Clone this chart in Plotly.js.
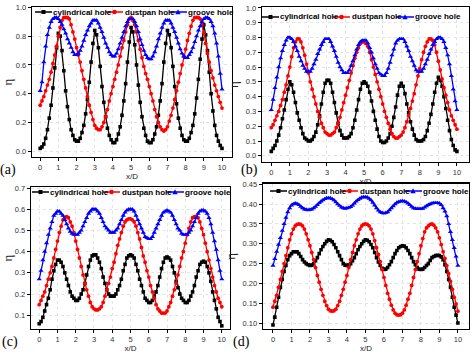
<!DOCTYPE html>
<html><head><meta charset="utf-8">
<script src="https://cdn.plot.ly/plotly-3.0.1.min.js"></script>
<style>html,body{margin:0;padding:0;background:#fff}#chart{width:474px;height:354px}</style>
</head><body><div id="chart"></div>
<script>
// x/D positions
const xD = [0,0.1,0.2,0.3,0.4,0.5,0.6,0.7,0.8,0.9,
  1,1.1,1.2,1.3,1.4,1.5,1.6,1.7,1.8,1.9,
  2,2.1,2.2,2.3,2.4,2.5,2.6,2.7,2.8,2.9,
  3,3.1,3.2,3.3,3.4,3.5,3.6,3.7,3.8,3.9,
  4,4.1,4.2,4.3,4.4,4.5,4.6,4.7,4.8,4.9,
  5,5.1,5.2,5.3,5.4,5.5,5.6,5.7,5.8,5.9,
  6,6.1,6.2,6.3,6.4,6.5,6.6,6.7,6.8,6.9,
  7,7.1,7.2,7.3,7.4,7.5,7.6,7.7,7.8,7.9,
  8,8.1,8.2,8.3,8.4,8.5,8.6,8.7,8.8,8.9,
  9,9.1,9.2,9.3,9.4,9.5,9.6,9.7,9.8,9.9,10];
const seriesNames = ['cylindrical hole','dustpan hole','groove hole'];
const panelTags = ['(a)','(b)','(c)','(d)'];

// (a)
const cylA = [0.02,0.03,0.05,0.09,0.15,0.23,0.32,0.44,0.58,0.72,
  0.82,0.80,0.70,0.56,0.42,0.31,0.22,0.15,0.11,0.08,
  0.07,0.07,0.09,0.13,0.18,0.26,0.36,0.48,0.62,0.75,
  0.84,0.81,0.72,0.59,0.45,0.34,0.24,0.16,0.11,0.08,
  0.06,0.06,0.08,0.12,0.17,0.25,0.35,0.47,0.62,0.76,
  0.86,0.83,0.74,0.60,0.46,0.34,0.24,0.16,0.11,0.07,
  0.06,0.06,0.08,0.12,0.17,0.25,0.35,0.47,0.62,0.75,
  0.84,0.81,0.72,0.59,0.45,0.33,0.23,0.16,0.11,0.08,
  0.07,0.07,0.09,0.13,0.18,0.26,0.37,0.50,0.64,0.78,
  0.88,0.81,0.70,0.55,0.40,0.28,0.18,0.11,0.07,0.04,0.02];
const dusA = [0.32,0.35,0.38,0.42,0.46,0.50,0.55,0.61,0.67,0.73,
  0.80,0.86,0.91,0.93,0.93,0.93,0.92,0.88,0.83,0.78,
  0.72,0.67,0.62,0.56,0.50,0.44,0.38,0.32,0.27,0.22,
  0.18,0.16,0.15,0.15,0.17,0.20,0.24,0.29,0.35,0.40,
  0.45,0.50,0.55,0.60,0.66,0.72,0.77,0.83,0.88,0.92,
  0.93,0.91,0.88,0.83,0.77,0.71,0.65,0.59,0.54,0.50,
  0.45,0.40,0.35,0.29,0.24,0.20,0.17,0.15,0.14,0.15,
  0.17,0.21,0.25,0.30,0.36,0.42,0.48,0.54,0.60,0.66,
  0.71,0.77,0.82,0.87,0.91,0.93,0.93,0.93,0.92,0.88,
  0.82,0.75,0.68,0.62,0.56,0.51,0.46,0.42,0.38,0.34,0.30];
const groA = [0.42,0.48,0.62,0.73,0.81,0.86,0.90,0.92,0.93,0.93,
  0.92,0.90,0.88,0.85,0.82,0.78,0.75,0.72,0.69,0.67,
  0.67,0.68,0.70,0.73,0.77,0.81,0.84,0.87,0.89,0.91,
  0.91,0.91,0.89,0.86,0.83,0.79,0.75,0.72,0.69,0.67,
  0.66,0.66,0.68,0.71,0.75,0.79,0.83,0.87,0.90,0.92,
  0.92,0.92,0.90,0.87,0.83,0.78,0.74,0.70,0.67,0.65,
  0.64,0.64,0.66,0.69,0.73,0.78,0.82,0.86,0.89,0.91,
  0.91,0.91,0.89,0.86,0.83,0.79,0.75,0.71,0.68,0.66,
  0.65,0.65,0.67,0.69,0.72,0.76,0.80,0.84,0.87,0.90,
  0.92,0.93,0.93,0.92,0.90,0.87,0.82,0.75,0.66,0.54,0.43];
// (b)
const cylB = [0.03,0.05,0.07,0.10,0.14,0.19,0.25,0.31,0.38,0.45,
  0.50,0.48,0.43,0.36,0.29,0.24,0.19,0.15,0.12,0.11,
  0.10,0.10,0.11,0.13,0.16,0.21,0.27,0.35,0.43,0.49,
  0.51,0.51,0.49,0.43,0.36,0.29,0.22,0.17,0.14,0.12,
  0.12,0.12,0.13,0.15,0.19,0.24,0.31,0.38,0.45,0.49,
  0.50,0.49,0.47,0.43,0.37,0.30,0.24,0.18,0.13,0.10,
  0.09,0.09,0.10,0.12,0.15,0.20,0.26,0.33,0.41,0.47,
  0.49,0.47,0.42,0.35,0.29,0.23,0.18,0.14,0.11,0.10,
  0.10,0.10,0.11,0.13,0.17,0.22,0.28,0.35,0.43,0.49,
  0.53,0.51,0.47,0.40,0.32,0.24,0.17,0.11,0.07,0.04,0.03];
const dusB = [0.19,0.21,0.24,0.27,0.30,0.34,0.38,0.43,0.48,0.54,
  0.60,0.67,0.73,0.77,0.79,0.79,0.77,0.73,0.68,0.62,
  0.56,0.50,0.45,0.40,0.35,0.30,0.26,0.22,0.19,0.16,
  0.15,0.14,0.14,0.15,0.16,0.19,0.22,0.26,0.31,0.36,
  0.41,0.46,0.51,0.56,0.61,0.66,0.70,0.73,0.76,0.77,
  0.77,0.76,0.74,0.70,0.65,0.60,0.55,0.50,0.45,0.40,
  0.35,0.30,0.26,0.22,0.18,0.15,0.13,0.12,0.12,0.13,
  0.14,0.16,0.19,0.23,0.27,0.32,0.37,0.42,0.48,0.54,
  0.59,0.65,0.70,0.74,0.77,0.79,0.79,0.78,0.75,0.70,
  0.64,0.58,0.52,0.46,0.41,0.36,0.31,0.27,0.24,0.21,0.18];
const groB = [0.31,0.38,0.46,0.53,0.60,0.66,0.71,0.75,0.78,0.80,
  0.80,0.79,0.77,0.74,0.71,0.67,0.64,0.61,0.59,0.57,
  0.57,0.57,0.59,0.62,0.65,0.69,0.72,0.75,0.77,0.79,
  0.79,0.79,0.77,0.74,0.71,0.67,0.63,0.60,0.58,0.56,
  0.56,0.56,0.58,0.61,0.64,0.68,0.72,0.75,0.77,0.78,
  0.78,0.78,0.76,0.73,0.70,0.66,0.62,0.59,0.56,0.55,
  0.54,0.54,0.56,0.59,0.63,0.68,0.72,0.76,0.78,0.79,
  0.79,0.79,0.77,0.74,0.71,0.67,0.64,0.61,0.58,0.57,
  0.57,0.57,0.59,0.62,0.65,0.69,0.72,0.75,0.77,0.79,
  0.80,0.80,0.79,0.77,0.73,0.68,0.62,0.54,0.45,0.37,0.31];
// (c)
const cylC = [0.06,0.07,0.09,0.12,0.15,0.18,0.22,0.27,0.31,0.34,
  0.36,0.36,0.35,0.33,0.30,0.27,0.24,0.21,0.19,0.18,
  0.17,0.17,0.18,0.20,0.22,0.25,0.29,0.33,0.36,0.38,
  0.385,0.385,0.37,0.35,0.32,0.28,0.25,0.22,0.20,0.19,
  0.19,0.19,0.20,0.22,0.24,0.27,0.31,0.34,0.37,0.38,
  0.385,0.38,0.37,0.34,0.31,0.27,0.24,0.21,0.18,0.17,
  0.16,0.16,0.17,0.19,0.21,0.24,0.28,0.32,0.35,0.37,
  0.375,0.37,0.36,0.33,0.30,0.26,0.23,0.20,0.18,0.17,
  0.16,0.16,0.17,0.19,0.21,0.24,0.28,0.31,0.34,0.35,
  0.355,0.35,0.33,0.30,0.26,0.21,0.17,0.13,0.09,0.07,0.05];
const dusC = [0.15,0.17,0.19,0.21,0.24,0.27,0.30,0.33,0.37,0.41,
  0.45,0.49,0.52,0.55,0.56,0.565,0.56,0.54,0.52,0.49,
  0.45,0.41,0.37,0.33,0.29,0.25,0.22,0.19,0.16,0.14,
  0.13,0.125,0.125,0.13,0.14,0.16,0.19,0.22,0.25,0.28,
  0.32,0.35,0.39,0.43,0.46,0.49,0.52,0.54,0.55,0.555,
  0.555,0.55,0.54,0.52,0.49,0.46,0.42,0.38,0.35,0.31,
  0.28,0.24,0.21,0.18,0.15,0.13,0.12,0.11,0.11,0.11,
  0.12,0.14,0.16,0.19,0.22,0.25,0.29,0.33,0.37,0.40,
  0.44,0.48,0.51,0.54,0.56,0.565,0.565,0.56,0.54,0.51,
  0.48,0.44,0.40,0.36,0.32,0.28,0.24,0.21,0.18,0.16,0.14];
const groC = [0.27,0.31,0.36,0.40,0.44,0.48,0.51,0.54,0.57,0.58,
  0.59,0.59,0.58,0.57,0.55,0.53,0.51,0.495,0.485,0.48,
  0.48,0.48,0.49,0.50,0.52,0.54,0.56,0.58,0.59,0.60,
  0.60,0.60,0.59,0.58,0.56,0.54,0.52,0.51,0.50,0.49,
  0.49,0.49,0.50,0.51,0.53,0.55,0.57,0.585,0.595,0.60,
  0.60,0.60,0.59,0.57,0.55,0.53,0.51,0.49,0.47,0.465,
  0.46,0.46,0.47,0.49,0.51,0.53,0.55,0.57,0.585,0.59,
  0.595,0.59,0.585,0.57,0.55,0.53,0.51,0.50,0.485,0.48,
  0.48,0.48,0.49,0.50,0.52,0.54,0.56,0.58,0.59,0.595,
  0.595,0.59,0.58,0.56,0.53,0.49,0.45,0.41,0.36,0.31,0.27];
// (d)
const cylD = [0.095,0.115,0.14,0.165,0.19,0.21,0.23,0.245,0.26,0.27,
  0.275,0.28,0.28,0.28,0.275,0.268,0.26,0.254,0.25,0.247,
  0.245,0.246,0.25,0.257,0.265,0.275,0.285,0.293,0.30,0.306,
  0.31,0.309,0.305,0.298,0.29,0.28,0.27,0.26,0.25,0.246,
  0.245,0.246,0.25,0.257,0.265,0.275,0.285,0.293,0.30,0.306,
  0.31,0.309,0.305,0.298,0.29,0.278,0.265,0.254,0.245,0.238,
  0.235,0.236,0.24,0.247,0.255,0.265,0.275,0.283,0.29,0.293,
  0.295,0.294,0.29,0.283,0.275,0.265,0.255,0.247,0.24,0.236,
  0.235,0.236,0.24,0.245,0.25,0.258,0.265,0.268,0.27,0.271,
  0.27,0.267,0.26,0.247,0.23,0.21,0.19,0.165,0.14,0.12,0.10];
const dusD = [0.14,0.155,0.17,0.19,0.21,0.23,0.25,0.27,0.29,0.31,
  0.325,0.337,0.345,0.349,0.35,0.349,0.345,0.337,0.325,0.31,
  0.295,0.278,0.26,0.24,0.22,0.203,0.185,0.17,0.155,0.144,
  0.135,0.131,0.13,0.131,0.135,0.144,0.155,0.17,0.185,0.203,
  0.22,0.24,0.26,0.278,0.295,0.31,0.325,0.337,0.345,0.349,
  0.35,0.349,0.345,0.337,0.325,0.308,0.29,0.273,0.255,0.235,
  0.215,0.195,0.175,0.16,0.145,0.133,0.125,0.121,0.12,0.121,
  0.125,0.133,0.145,0.16,0.175,0.195,0.215,0.235,0.255,0.275,
  0.295,0.313,0.33,0.34,0.345,0.349,0.35,0.347,0.34,0.33,
  0.315,0.298,0.28,0.263,0.245,0.225,0.205,0.185,0.165,0.148,0.13];
const groD = [0.245,0.262,0.28,0.298,0.315,0.333,0.35,0.366,0.38,0.39,
  0.397,0.40,0.402,0.401,0.398,0.394,0.39,0.387,0.386,0.385,
  0.386,0.387,0.39,0.394,0.398,0.403,0.407,0.41,0.413,0.415,
  0.415,0.415,0.413,0.41,0.405,0.40,0.396,0.392,0.39,0.389,
  0.39,0.391,0.393,0.397,0.402,0.407,0.411,0.414,0.417,0.418,
  0.418,0.417,0.414,0.41,0.404,0.397,0.39,0.384,0.38,0.378,
  0.377,0.378,0.38,0.385,0.39,0.395,0.40,0.404,0.406,0.407,
  0.408,0.407,0.405,0.402,0.398,0.394,0.39,0.389,0.388,0.388,
  0.388,0.389,0.392,0.395,0.398,0.40,0.402,0.403,0.403,0.403,
  0.402,0.398,0.39,0.382,0.37,0.35,0.33,0.31,0.29,0.268,0.245];

const W = 474, H = 354;
const px = x => x / W, py = y => 1 - y / H;

const panels = [
  {data:[cylA,dusA,groA], box:[32,232,7,157],     xr:[-0.45,10.55], yr:[-0.04,1.003],  dtick:0.2,  tick0:0,   fmt:'.1f', leg:[35,12],  tag:[8,170]},
  {data:[cylB,dusB,groB], box:[262,469,7.3,162],  xr:[-0.5,10.65],  yr:[-0.042,1.004], dtick:0.1,  tick0:0,   fmt:'.1f', leg:[262,17], tag:[249,170]},
  {data:[cylC,dusC,groC], box:[31,230,187,329],   xr:[-0.45,10.45], yr:[0.035,0.705],  dtick:0.1,  tick0:0.1, fmt:'.1f', leg:[32,192],  tag:[10,342]},
  {data:[cylD,dusD,groD], box:[263,469,183.5,329],xr:[-0.54,10.6],  yr:[0.085,0.452],  dtick:0.05, tick0:0.1, fmt:'.2f', leg:[270,191], tag:[241,342]}
];

const colors = ['#000000','#ff0000','#0000ff'];
const symbols = ['square','circle','triangle-up'];
const msizes = [3.6,3.8,4.6];

const traces = [];
const layout = {
  width: W, height: H,
  margin:{l:0,r:0,t:0,b:0},
  paper_bgcolor:'#ffffff', plot_bgcolor:'#ffffff',
  showlegend:false,
  font:{family:'Liberation Sans, Arial, sans-serif', size:8, color:'#222'},
  shapes:[], annotations:[]
};

const legLines = [[0,17],[71,88],[134,152]];
const legText = [17,89,152];

panels.forEach((p,i) => {
  const sfx = i === 0 ? '' : String(i+1);
  const xa = 'x'+sfx, ya = 'y'+sfx;
  p.data.forEach((ys,k) => {
    traces.push({
      type:'scatter', mode:'lines+markers', x:xD, y:ys, xaxis:xa, yaxis:ya,
      name:seriesNames[k],
      line:{color:colors[k], width:1.3},
      marker:{symbol:symbols[k], size:msizes[k], color:colors[k]}
    });
  });
  const axCommon = {
    showline:true, mirror:true, linecolor:'#000', linewidth:1.3,
    ticks:'outside', ticklen:3, tickwidth:1, tickcolor:'#000',
    showgrid:true, gridcolor:'#e4e4e4', gridwidth:1, griddash:'dot',
    zeroline:false, tickfont:{family:'Liberation Sans, Arial', size:7.5, color:'#333'}
  };
  layout['xaxis'+sfx] = Object.assign({}, axCommon, {
    domain:[px(p.box[0]), px(p.box[1])], range:p.xr, anchor:ya,
    tick0:0, dtick:1, ticklabelstandoff:0,
    title:{text:'x/D', font:{family:'Liberation Sans, Arial', size:8, color:'#222'}, standoff:1}
  });
  layout['yaxis'+sfx] = Object.assign({}, axCommon, {
    domain:[py(p.box[3]), py(p.box[2])], range:p.yr, anchor:xa,
    tick0:p.tick0, dtick:p.dtick, tickformat:p.fmt,
    title:{text:'η', font:{family:'Liberation Serif, Times New Roman, serif', size:13, color:'#222'}, standoff:4}
  });
  // legend drawn inside panel
  const [sx, ly] = p.leg;
  legLines.forEach((seg,k) => {
    const a = sx+seg[0], b = sx+seg[1], m = (a+b)/2;
    layout.shapes.push({type:'line', xref:'paper', yref:'paper', x0:px(a), x1:px(b), y0:py(ly), y1:py(ly), line:{color:colors[k], width:1.5}});
    if (k === 0) {
      layout.shapes.push({type:'rect', xref:'paper', yref:'paper', x0:px(m-2), x1:px(m+2), y0:py(ly+2), y1:py(ly-2), fillcolor:colors[k], line:{width:0}});
    } else if (k === 1) {
      layout.shapes.push({type:'circle', xref:'paper', yref:'paper', x0:px(m-2.3), x1:px(m+2.3), y0:py(ly+2.3), y1:py(ly-2.3), fillcolor:colors[k], line:{width:0}});
    } else {
      layout.shapes.push({type:'path', xref:'paper', yref:'paper',
        path:`M ${px(m-2.7)} ${py(ly+2.2)} L ${px(m+2.7)} ${py(ly+2.2)} L ${px(m)} ${py(ly-2.8)} Z`,
        fillcolor:colors[k], line:{width:0}});
    }
    layout.annotations.push({xref:'paper', yref:'paper', x:px(sx+legText[k]), y:py(ly), xanchor:'left', yanchor:'middle',
      text:'<b>'+seriesNames[k]+'</b>', showarrow:false, borderpad:0,
      font:{family:'Liberation Sans, Arial', size:8, color:'#000'}});
  });
  layout.annotations.push({xref:'paper', yref:'paper', x:px(p.tag[0]), y:py(p.tag[1]), xanchor:'center', yanchor:'middle',
    text:panelTags[i], showarrow:false, font:{family:'Liberation Serif, Times New Roman, serif', size:14, color:'#000'}});
});

Plotly.newPlot('chart', traces, layout, {staticPlot:true, displayModeBar:false});
</script>
</body></html>
